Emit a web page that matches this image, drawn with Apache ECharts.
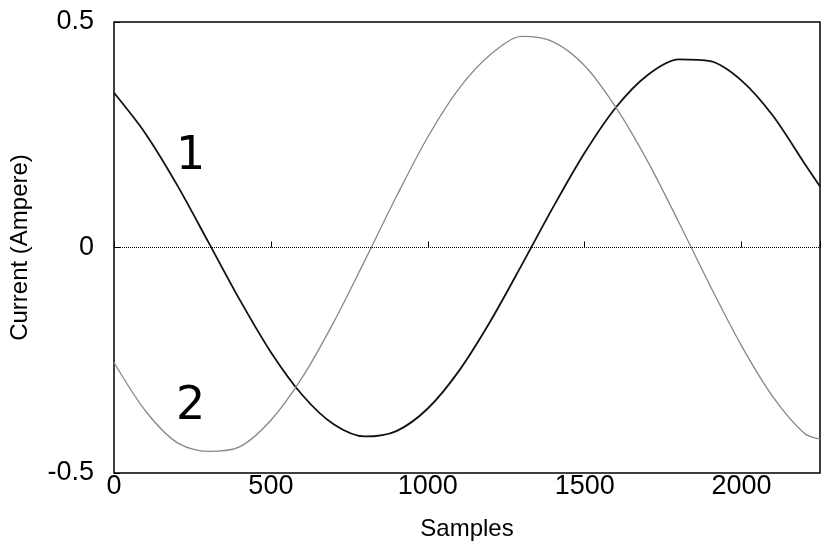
<!DOCTYPE html>
<html>
<head>
<meta charset="utf-8">
<script src="https://cdn.jsdelivr.net/npm/echarts@6/dist/echarts.min.js"></script>
<style>html,body{margin:0;padding:0;background:#fff}#main{width:834px;height:546px}</style>
</head>
<body>
<div id="main"></div>
<script>
// 采样点（每100个样本读一次）
var samples = [0,100,200,300,400,500,600,700,800,900,1000,1100,1200,1300,1400,1500,1600,1700,1800,1900,2000,2100,2200,2250];
var current1 = [0.343,0.253,0.140,0.013,-0.115,-0.232,-0.327,-0.392,-0.419,-0.407,-0.357,-0.273,-0.163,-0.038,0.090,0.210,0.311,0.382,0.417,0.413,0.370,0.292,0.187,0.135];
var current2 = [-0.255,-0.362,-0.432,-0.452,-0.442,-0.383,-0.288,-0.166,-0.028,0.113,0.245,0.353,0.428,0.468,0.456,0.403,0.310,0.192,0.056,-0.085,-0.218,-0.331,-0.412,-0.425];
var xTicks = [0,500,1000,1500,2000];

function pairs(v){ return samples.map(function(s,i){ return [s, v[i]]; }); }

var myChart = echarts.init(document.getElementById('main'));
var font = 'Liberation Sans, Arial, sans-serif';
option = {
    animation: false,
    grid: {left: 112, right: 14, top: 22, bottom: 62, show: true, borderColor: '#000', borderWidth: 1.5},
    xAxis: {
        type: 'value', min: 0, max: 2250, interval: 500,
        name: 'Samples', nameLocation: 'middle', nameGap: 44,
        nameTextStyle: {fontSize: 24, color: '#000', fontFamily: font},
        axisLine: {show: false}, splitLine: {show: false},
        axisTick: {inside: true, length: 6, lineStyle: {color: '#000'}},
        axisLabel: {fontSize: 27, color: '#000', fontFamily: font, margin: 0,
            formatter: function(v){ return xTicks.indexOf(v) >= 0 ? v : ''; }}
    },
    yAxis: {
        type: 'value', min: -0.5, max: 0.5, interval: 0.5,
        name: 'Current (Ampere)', nameLocation: 'middle', nameGap: 82,
        nameTextStyle: {fontSize: 24, color: '#000', fontFamily: font},
        axisLine: {show: false}, splitLine: {show: false},
        axisTick: {inside: true, length: 6, lineStyle: {color: '#000'}},
        axisLabel: {fontSize: 27, color: '#000', fontFamily: font, margin: 20}
    },
    graphic: [
        {type: 'text', left: 176, top: 134, style: {text: '1', fontSize: 46, fill: '#000', fontFamily: 'DejaVu Sans'}},
        {type: 'text', left: 176, top: 384, style: {text: '2', fontSize: 46, fill: '#000', fontFamily: 'DejaVu Sans'}}
    ],
    series: [
        {type: 'line', data: pairs(current1), smooth: 0.3, showSymbol: false,
         lineStyle: {color: '#111', width: 1.8},
         markLine: {silent: true, symbol: 'none', label: {show: false},
            lineStyle: {color: '#000', type: 'dotted', width: 1}, data: [{yAxis: 0}]}},
        {type: 'line', data: pairs(current2), smooth: 0.3, showSymbol: false,
         lineStyle: {color: '#888', width: 1.3}}
    ]
};
myChart.setOption(option);
</script>
</body>
</html>
